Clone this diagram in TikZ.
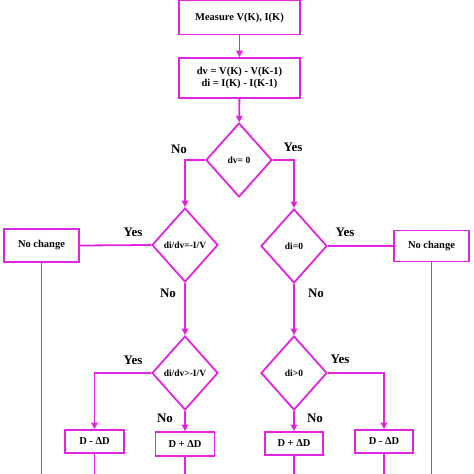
\documentclass[tikz,border=0pt]{standalone}
\usepackage{fontspec}
\setmainfont{Liberation Serif}
\usepackage{xcolor}
\usepackage{tikz}
\usetikzlibrary{shapes, arrows, positioning, arrows.meta, calc}

\definecolor{flow}{RGB}{225,35,225}

\tikzset{
    box/.style={draw=flow, line width=1.8pt, rectangle, inner sep=0pt, font=\bfseries\fontsize{10.5}{12.5}\selectfont, align=center},
    test/.style={draw=flow, line width=1.8pt, diamond, aspect=0.89, inner sep=0pt, minimum width=66pt, minimum height=74pt, font=\bfseries\fontsize{9.5}{11}\selectfont},
    link/.style={draw=flow, line width=1.8pt},
    arr/.style={link, -{Triangle[width=6.5pt,length=6.5pt]}},
    lbl/.style={font=\bfseries\fontsize{13}{15}\selectfont}
}

\begin{document}
\begin{tikzpicture}[x=1pt, y=-1pt]
        \useasboundingbox (0,0) rectangle (474,474);
        \coordinate (bot) at (0,474);

        % top of the chart
        \node[box, minimum width=121pt, minimum height=34pt] (measure) at (239.5,17.5) {Measure V(K), I(K)};
        \node[box, minimum width=121pt, minimum height=40pt] (diff) at (239.5,78) {dv = V(K) - V(K-1)\\ di = I(K) - I(K-1)};
        \node[test] (dvzero) at (239,160) {dv= 0};

        % tests
        \node[test] (slope) at (185,245) {di/dv=-I/V};
        \node[test] (dizero) at (294,246) {di=0};
        \node[test] (slopegt) at (185,373) {di/dv>-I/V};
        \node[test] (dipos) at (294,373) {di>0};

        % actions
        \node[box, minimum width=75pt, minimum height=33pt] (keepL) at (41.5,245.5) {No change};
        \node[box, minimum width=75pt, minimum height=31pt] (keepR) at (431.5,246) {No change};
        \node[box, minimum width=59pt, minimum height=23pt] (decL) at (94.5,441.5) {D - ΔD};
        \node[box, minimum width=59pt, minimum height=24pt] (incL) at (185,444) {D + ΔD};
        \node[box, minimum width=58pt, minimum height=23pt] (incR) at (294,443.5) {D + ΔD};
        \node[box, minimum width=58pt, minimum height=23pt] (decR) at (384,441.5) {D - ΔD};

        % connectors
        \draw[arr] (measure) -- (diff);
        \draw[arr] (diff) -- (dvzero);
        \draw[arr] (dvzero.west) -| (slope.north);
        \draw[arr] (dvzero.east) -| (dizero.north);
        \draw[link] (slope.west) -- (keepL.east);
        \draw[link] (dizero.east) -- (keepR.west);
        \draw[arr] (slope.south) -- (slopegt.north);
        \draw[arr] (dizero.south) -- (dipos.north);
        \draw[arr] (slopegt.west) -| (decL.north);
        \draw[arr] (slopegt.south) -- (incL.north);
        \draw[arr] (dipos.east) -| (decR.north);
        \draw[arr] (dipos.south) -- (incR.north);

        \foreach \n in {keepL, keepR, decL, incL, incR, decR} {
            \draw[link] (\n.south) -- (\n.south |- bot);
        }

        % branch labels
        \node[lbl] (noA) at (179,149) {No};
        \node[lbl] (yesA) at (293,147) {Yes};
        \node[lbl] (yesB) at (133,232) {Yes};
        \node[lbl] (noB) at (168,293) {No};
        \node[lbl] (yesC) at (345,232) {Yes};
        \node[lbl] (noC) at (316,293) {No};
        \node[lbl] (yesD) at (133,360) {Yes};
        \node[lbl] (noD) at (165,418) {No};
        \node[lbl] (yesE) at (340,359) {Yes};
        \node[lbl] (noE) at (315,418) {No};

    \end{tikzpicture}
\end{document}
